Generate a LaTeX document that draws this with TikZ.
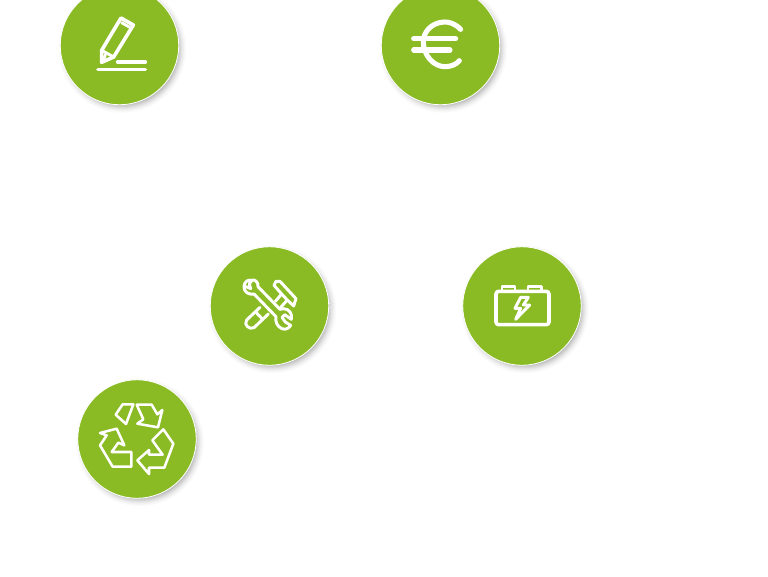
\documentclass[tikz,border=0pt]{standalone}
\definecolor{lime}{HTML}{8ABB25}
\tikzset{
  badge/.style={circle,fill=lime,draw=white,line width=.6pt,minimum size=88.8pt,inner sep=0pt},
  icon/.style={draw=white,line width=2.7pt,line join=round,line cap=round},
  thin icon/.style={draw=white,line width=2.2pt,line join=round,line cap=round},
  euro icon/.style={draw=white,line width=3.8pt,line join=round,line cap=round},
  stub/.style={draw=black!10,line width=.5pt}
}
\newcommand{\badgeat}[3]{%
  \foreach \r/\o in {64/.012,63/.016,62/.02,61/.025,60/.03,59/.035,58/.04,57/.045,56/.05}{
    \fill[black,opacity=\o] (#2+3,#3+3.5) circle[radius=\r*.75pt];
  }
  \node[badge] (#1) at (#2,#3) {};
}
\begin{document}
\begin{tikzpicture}[x=.75pt,y=-.75pt]
\useasboundingbox (0,0) rectangle (768,576);
\fill[white] (0,0) rectangle (768,576);
\begin{scope}
\clip (0,0) rectangle (768,576);
\badgeat{pen}{119.5}{45.5}
\badgeat{euro}{440.5}{45.5}
\badgeat{tools}{269.5}{306}
\badgeat{battery}{522}{306}
\badgeat{recycle}{137}{439}
\end{scope}
% pen (units: 1/3 px)
\begin{scope}[x=.25pt,y=-.25pt,shift={(150,0)}]
\draw[icon] (155,187) -- (155,151) -- (213,54) -- (250,75) -- (191,171) -- cycle;
\draw[thin icon] (215,68) -- (238,81);
\draw[thin icon] (155,151) -- (191,171);
\draw[thin icon] (162,178) -- (166,163);
\draw[icon] (203,186) -- (286,186);
\draw[icon] (144,208) -- (286,208);
\end{scope}
% euro
\begin{scope}[x=.25pt,y=-.25pt,shift={(1110,0)}]
\draw[euro icon] (272,88) .. controls (255,70) and (235,65) .. (222,66)
  .. controls (185,68) and (160,95) .. (160,125)
  .. controls (160,165) and (190,200) .. (225,200)
  .. controls (240,200) and (258,195) .. (268,182);
\draw[euro icon] (131,116) -- (257,116);
\draw[euro icon] (131,150) -- (240,150);
\end{scope}
% tools
\begin{scope}[x=.25pt,y=-.25pt,shift={(600,720)}]
% hammer
\draw[thin icon] (245,162) -- (222,136) -- (228,124) -- (240,124) -- (288,176) -- (281,198) -- (262,180) -- cycle;
\draw[thin icon] (245,162) -- (226,184);
\draw[thin icon] (262,180) -- (243,201);
\draw[thin icon] (205,222) -- (162,263) .. controls (148,270) and (130,255) .. (140,240) -- (180,202);
\draw[thin icon] (167,216) -- (188,238);
% wrench
\draw[thin icon] (150,120) .. controls (135,120) and (128,138) .. (134,150)
  .. controls (139,160) and (150,164) .. (162,162)
  -- (228,230) .. controls (225,246) and (232,260) .. (246,266)
  .. controls (256,270) and (266,266) .. (272,256)
  -- (256,246) -- (246,232) -- (254,224) -- (274,238)
  .. controls (278,222) and (268,206) .. (250,206)
  -- (240,208) -- (174,140) .. controls (176,128) and (166,118) .. (156,120)
  -- (148,132) -- (152,146) -- (138,140);
\end{scope}
% battery
\begin{scope}[x=.25pt,y=-.25pt,shift={(1365,720)}]
\draw[icon,rounded corners=2pt] (123,154) rectangle (282,254);
\draw[thin icon] (141,153) -- (141,140) -- (180,140) -- (180,153);
\draw[thin icon] (219,153) -- (219,140) -- (260,140) -- (260,153);
\draw[thin icon] (197,172) -- (180,205) -- (197,205) -- (182,238) -- (224,195) -- (205,195) -- (220,172) -- cycle;
\end{scope}
% recycle
\begin{scope}[x=.25pt,y=-.25pt,shift={(210,1116)},thin icon/.append style={line width=1.9pt}]
\draw[thin icon] (137,128) -- (158,97) -- (190,97) -- (168,156) -- cycle;
\draw[thin icon] (200,98) -- (245,98) -- (262,127) -- (277,114) -- (264,166) -- (202,155) -- (220,142) -- cycle;
\draw[thin icon] (90,183) -- (140,170) -- (163,220) -- (145,212) -- (125,240) -- (184,240) -- (184,284) -- (128,284) -- (90,220) -- (110,190) -- cycle;
\draw[thin icon] (280,172) -- (310,215) -- (283,287) -- (237,287) -- (237,306) -- (202,265) -- (237,234) -- (237,248) -- (278,248) -- (247,205) -- cycle;
\end{scope}
% faint stubs
\coordinate (s1) at (334,303.5); \coordinate (s2) at (334,307.5);
\draw[stub] (tools.east |- s1) -- (s1);
\draw[stub] (tools.east |- s2) -- (s2);
\end{tikzpicture}
\end{document}
